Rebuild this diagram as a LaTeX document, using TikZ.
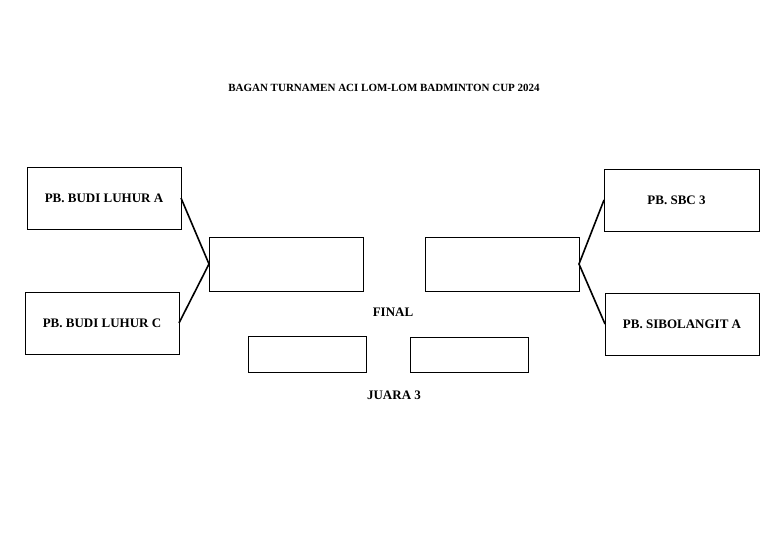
\documentclass[tikz,border=0pt]{standalone}
\usepackage{fontspec}
\setmainfont{Liberation Serif}
\begin{document}
\begin{tikzpicture}[x=1pt,y=-1pt,
  team/.style={draw,line width=0.8pt,font=\bfseries\fontsize{13}{15}\selectfont},
  conn/.style={line width=1.6pt},
  lbl/.style={font=\bfseries\fontsize{13}{15}\selectfont}]
\useasboundingbox (0,0) rectangle (768,543);
\draw[team] (27,167) rectangle (181,229) node[pos=.5,draw=none] (a) {PB. BUDI LUHUR A};
\draw[team] (25,292) rectangle (179,354) node[pos=.5,draw=none] (c) {PB. BUDI LUHUR C};
\draw[team] (604,169) rectangle (759,231) node[pos=.5,draw=none,xshift=-5pt] (s) {PB. SBC 3};
\draw[team] (605,293) rectangle (759,355) node[pos=.5,draw=none] (b) {PB. SIBOLANGIT A};
\draw[team] (209,237) rectangle (363,291);
\draw[team] (425,237) rectangle (579,291);
\draw[team] (248,336) rectangle (366,372);
\draw[team] (410,337) rectangle (528,372);
\coordinate (a1) at (181,198); \coordinate (c1) at (179,323); \coordinate (ml) at (209,264);
\coordinate (s1) at (604,200); \coordinate (b1) at (605,324); \coordinate (mr) at (579,264);
\draw[conn] (a1) -- (ml) -- (c1);
\draw[conn] (s1) -- (mr) -- (b1);
\node[font=\bfseries\fontsize{11}{13}\selectfont] (t) at (384,88) {BAGAN TURNAMEN ACI LOM-LOM BADMINTON CUP 2024};
\node[lbl] (f) at (393,312) {FINAL};
\node[lbl] (j) at (394,395) {JUARA 3};
\end{tikzpicture}
\end{document}
